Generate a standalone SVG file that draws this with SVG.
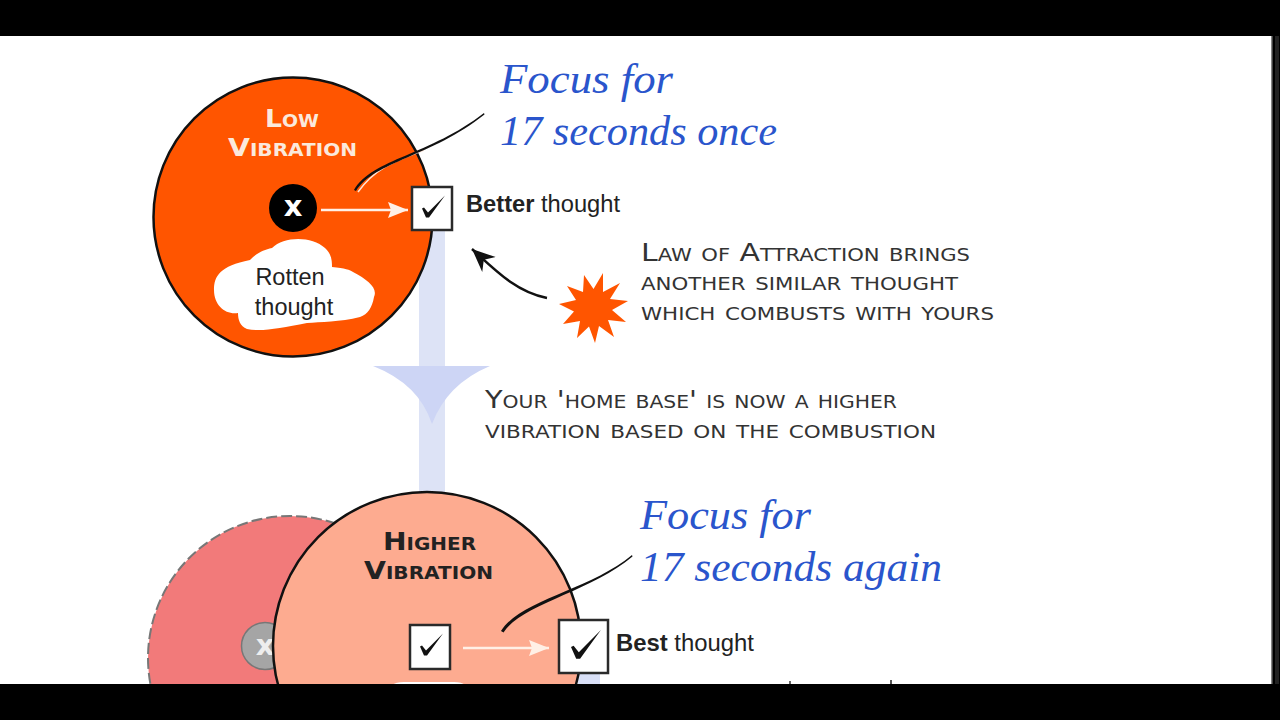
<svg xmlns="http://www.w3.org/2000/svg" width="1280" height="720" viewBox="0 0 1280 720">
<style>
.sc{font-family:"DejaVu Sans",sans-serif;font-variant:small-caps;fill:#333;font-size:25.500px}
.lab{font-family:"Liberation Sans",Arial,sans-serif;font-size:23.500px;fill:#222}
.fo{font-family:"Liberation Serif","DejaVu Serif",serif;font-style:italic;fill:#2a55cc;font-size:43px}
.hd{font-family:"DejaVu Sans",sans-serif;font-variant:small-caps;font-weight:bold;font-size:24px}
.box{fill:#fff;stroke:#2a2a2a;stroke-width:2.500}
.wa{stroke:#fff0e6;stroke-width:2.500;fill:none}
</style>
<defs>
<marker id="wh" markerWidth="22" markerHeight="18" refX="20" refY="9" orient="auto" markerUnits="userSpaceOnUse"><path d="M0 1L20 9L0 17L3 9Z" fill="#fff0e6"/></marker>
<marker id="bk" markerWidth="24" markerHeight="22" refX="23" refY="11" orient="auto" markerUnits="userSpaceOnUse"><path d="M0 1L23 11L0 21L7 11Z" fill="#111"/></marker>
<path id="check" d="M-10 1.500L-8 0.500L-4 5.500L13 -11.500L-3 10.500L-6 10.500Z" fill="#111"/>
</defs>
<rect width="1280" height="720" fill="#000"/>
<rect x="0" y="36" width="1271" height="648" fill="#fff"/>
<rect x="1271" y="36" width="1.500" height="648" fill="#888"/>
<rect x="1275" y="36" width="4" height="648" fill="#222"/>
<g id="big-arrow">
<rect x="419" y="225" width="26" height="275" fill="#dde3f6"/>
<path d="M373 366H490Q447 384 432 424Q419 384 373 366Z" fill="#cdd5f5"/>
<rect x="578" y="660" width="22" height="24" fill="#d9e0f7"/>
</g>
<g id="low-vibration">
<circle cx="293" cy="217" r="139.500" fill="#ff5500" stroke="#111" stroke-width="2.500"/>
<text class="hd" x="265" y="127" fill="#fbe9dc" textLength="54" lengthAdjust="spacingAndGlyphs">Low</text>
<text class="hd" x="228" y="156" fill="#fbe9dc" textLength="129" lengthAdjust="spacingAndGlyphs">Vibration</text>
<circle cx="293" cy="208" r="24" fill="#000"/>
<text x="293" y="216" font-family="DejaVu Sans,sans-serif" font-weight="bold" font-size="29" fill="#fff" text-anchor="middle">x</text>
</g>
<g id="rotten-thought">
<path d="M214 290C214 276 220 266 250 260C258 252 264 250 272 248C284 236 312 236 325 248C332 254 332 262 332 267C345 268 350 270 353 272C368 280 378 288 374 297C372 308 368 314 360 317C340 322 320 322 307 323C280 328 262 332 247 329C240 326 238 320 238 313C226 315 214 306 214 290Z" fill="#fff"/>
<text class="lab" x="290" y="285" text-anchor="middle">Rotten</text>
<text class="lab" x="294" y="315" text-anchor="middle">thought</text>
</g>
<g id="better-thought">
<rect class="box" x="412" y="187" width="40" height="43"/>
<use href="#check" x="432" y="207"/>
<text class="lab" x="466" y="212" textLength="154" lengthAdjust="spacingAndGlyphs"><tspan font-weight="bold">Better</tspan> thought</text>
</g>
<g id="focus-1">
<text class="fo" x="500" y="93" textLength="173" lengthAdjust="spacingAndGlyphs">Focus for</text>
<text class="fo" x="500" y="145" textLength="277" lengthAdjust="spacingAndGlyphs">17 seconds once</text>
</g>
<g id="burst">
<polygon points="584,275 593.500,289 603,273 603,292 620,283 610,299 628,301 612,310 626,322 608,320 614,337 599,326 595,343 589,326.500 577,338 580,321 563,324 574,311.500 559,304 576,300 567,286 583,292" fill="#ff5500"/>
</g>
<g id="law-text">
<text class="sc" x="641" y="261" textLength="329" lengthAdjust="spacingAndGlyphs">Law of Attraction brings</text>
<text class="sc" x="641" y="290" textLength="317" lengthAdjust="spacingAndGlyphs">another similar thought</text>
<text class="sc" x="641" y="320" textLength="353" lengthAdjust="spacingAndGlyphs">which combusts with yours</text>
</g>
<g id="home-text">
<text class="sc" x="485" y="408" textLength="412" lengthAdjust="spacingAndGlyphs">Your 'home base' is now a higher</text>
<text class="sc" x="485" y="438" textLength="451" lengthAdjust="spacingAndGlyphs">vibration based on the combustion</text>
</g>
<g id="old-vibration">
<circle cx="290" cy="658" r="142" fill="#f27a7a" stroke="#777" stroke-width="2" stroke-dasharray="11 4"/>
<circle cx="265" cy="646" r="23.500" fill="#a5a5a5" stroke="#777" stroke-width="1.500"/>
<text x="265" y="655" font-family="DejaVu Sans,sans-serif" font-weight="bold" font-size="29" fill="#eee" text-anchor="middle">x</text>
</g>
<g id="higher-vibration">
<circle cx="427" cy="646" r="154" fill="#fdab90" stroke="#111" stroke-width="2.500"/>
<text class="hd" x="383" y="550" fill="#222" textLength="93" lengthAdjust="spacingAndGlyphs">Higher</text>
<text class="hd" x="364" y="579" fill="#222" textLength="129" lengthAdjust="spacingAndGlyphs">Vibration</text>
<rect class="box" x="410" y="625" width="40" height="44"/>
<use href="#check" x="430" y="645"/>
<path d="M392 685Q396 682 404 682H454Q462 682 465 685Z" fill="#fff"/>
</g>
<g id="best-thought">
<rect class="box" x="559" y="620" width="49" height="53"/>
<use href="#check" transform="translate(584 645) scale(1.300)"/>
<text class="lab" x="616" y="651" textLength="138" lengthAdjust="spacingAndGlyphs"><tspan font-weight="bold">Best</tspan> thought</text>
</g>
<g id="focus-2">
<text class="fo" x="640" y="529" textLength="171" lengthAdjust="spacingAndGlyphs">Focus for</text>
<text class="fo" x="640" y="581" textLength="302" lengthAdjust="spacingAndGlyphs">17 seconds again</text>
</g>
<g id="connectors">
<path class="wa" d="M321 210H408" marker-end="url(#wh)"/>
<path class="wa" d="M463 648H549" marker-end="url(#wh)"/>
<path d="M358 192C376 167 396 161 424 150" fill="none" stroke="#ffe6d8" stroke-width="1.500"/>
<path d="M354 190C372 159 430 155 484 113L484.500 114.500C431 157 375 161 356 191Z" fill="#111"/>
<path d="M501 631C520 600 590 590 632 555L632.500 556.500C590 592 522 604 503.500 632.500Z" fill="#111"/>
<path d="M547 298C516 292 495 270 472 249" fill="none" stroke="#111" stroke-width="2.500" marker-end="url(#bk)"/>
</g>
<rect x="789" y="681" width="2" height="3" fill="#666"/>
<rect x="890" y="680" width="2" height="4" fill="#555"/>
<rect x="0" y="684" width="1280" height="36" fill="#000"/>
</svg>
